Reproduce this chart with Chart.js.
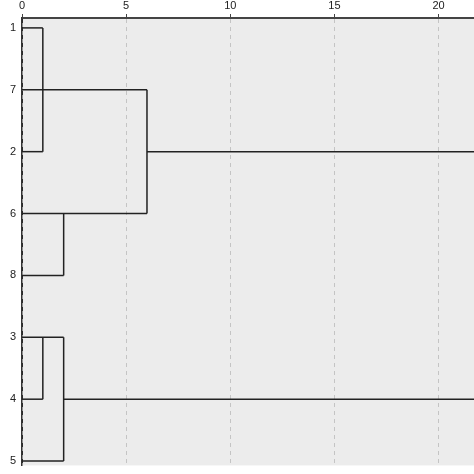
<!DOCTYPE html><html><head><style>body{margin:0;background:#fff}#w{width:474px;height:474px}</style>
<script src="https://cdn.jsdelivr.net/npm/chart.js@4"></script></head><body><div id="w"><canvas id="c"></canvas></div><script>
const leafLabels=['1','7','2','6','8','3','4','5'];
const xTicks=[0,5,10,15,20];
// segments: [x1,row1,x2,row2]
const segments=[
[0,1,1,1],[0,3,1,3],[1,1,1,3],
[0,2,6,2],[6,2,6,4],[6,3,21.7,3],
[0,4,6,4],[0,5,2,5],[2,4,2,5],
[0,6,2,6],[0,7,1,7],[1,6,1,7],[0,8,2,8],[2,6,2,8],[2,7,21.7,7]
];
const bg={id:'bg',beforeDraw(c){const a=c.chartArea,x=c.ctx;x.save();x.fillStyle='#ececec';x.fillRect(a.left,a.top,a.right-a.left,a.bottom-a.top);x.restore();}};
new Chart(document.getElementById('c'),{type:'line',plugins:[bg],
data:{datasets:segments.map(s=>({data:[{x:s[0],y:s[1]},{x:s[2],y:s[3]}],borderColor:'#222',borderWidth:1.5,pointRadius:0,fill:false}))},
options:{animation:false,responsive:true,maintainAspectRatio:false,clip:false,
layout:{padding:{left:0,top:0,right:0,bottom:0}},
plugins:{legend:{display:false},tooltip:{enabled:false}},
scales:{
x:{type:'linear',position:'top',min:0,max:21.7,afterBuildTicks(a){a.ticks=xTicks.map(v=>({value:v}));},
 ticks:{color:'#222',font:{size:11,family:'Arial'},padding:1,maxRotation:0},
 grid:{color:c=>c.tick&&c.tick.value===0?'#222':'#c4c4c4',drawTicks:true,tickLength:4,tickColor:'#444'},border:{display:true,color:'#444',width:2,dash:[4,4]},
 afterFit(a){a.height=18;}},
y:{type:'linear',reverse:true,min:0.84,max:8.07,afterBuildTicks(a){a.ticks=leafLabels.map((l,i)=>({value:i+1}));},
 ticks:{color:'#222',font:{size:11,family:'Arial'},padding:2,callback:(v)=>leafLabels[v-1]},
 grid:{display:false,drawTicks:true,tickLength:4},border:{display:true,color:'#333',width:1.5},
 afterFit(a){a.width=22;}}
}}});
</script></body></html>
